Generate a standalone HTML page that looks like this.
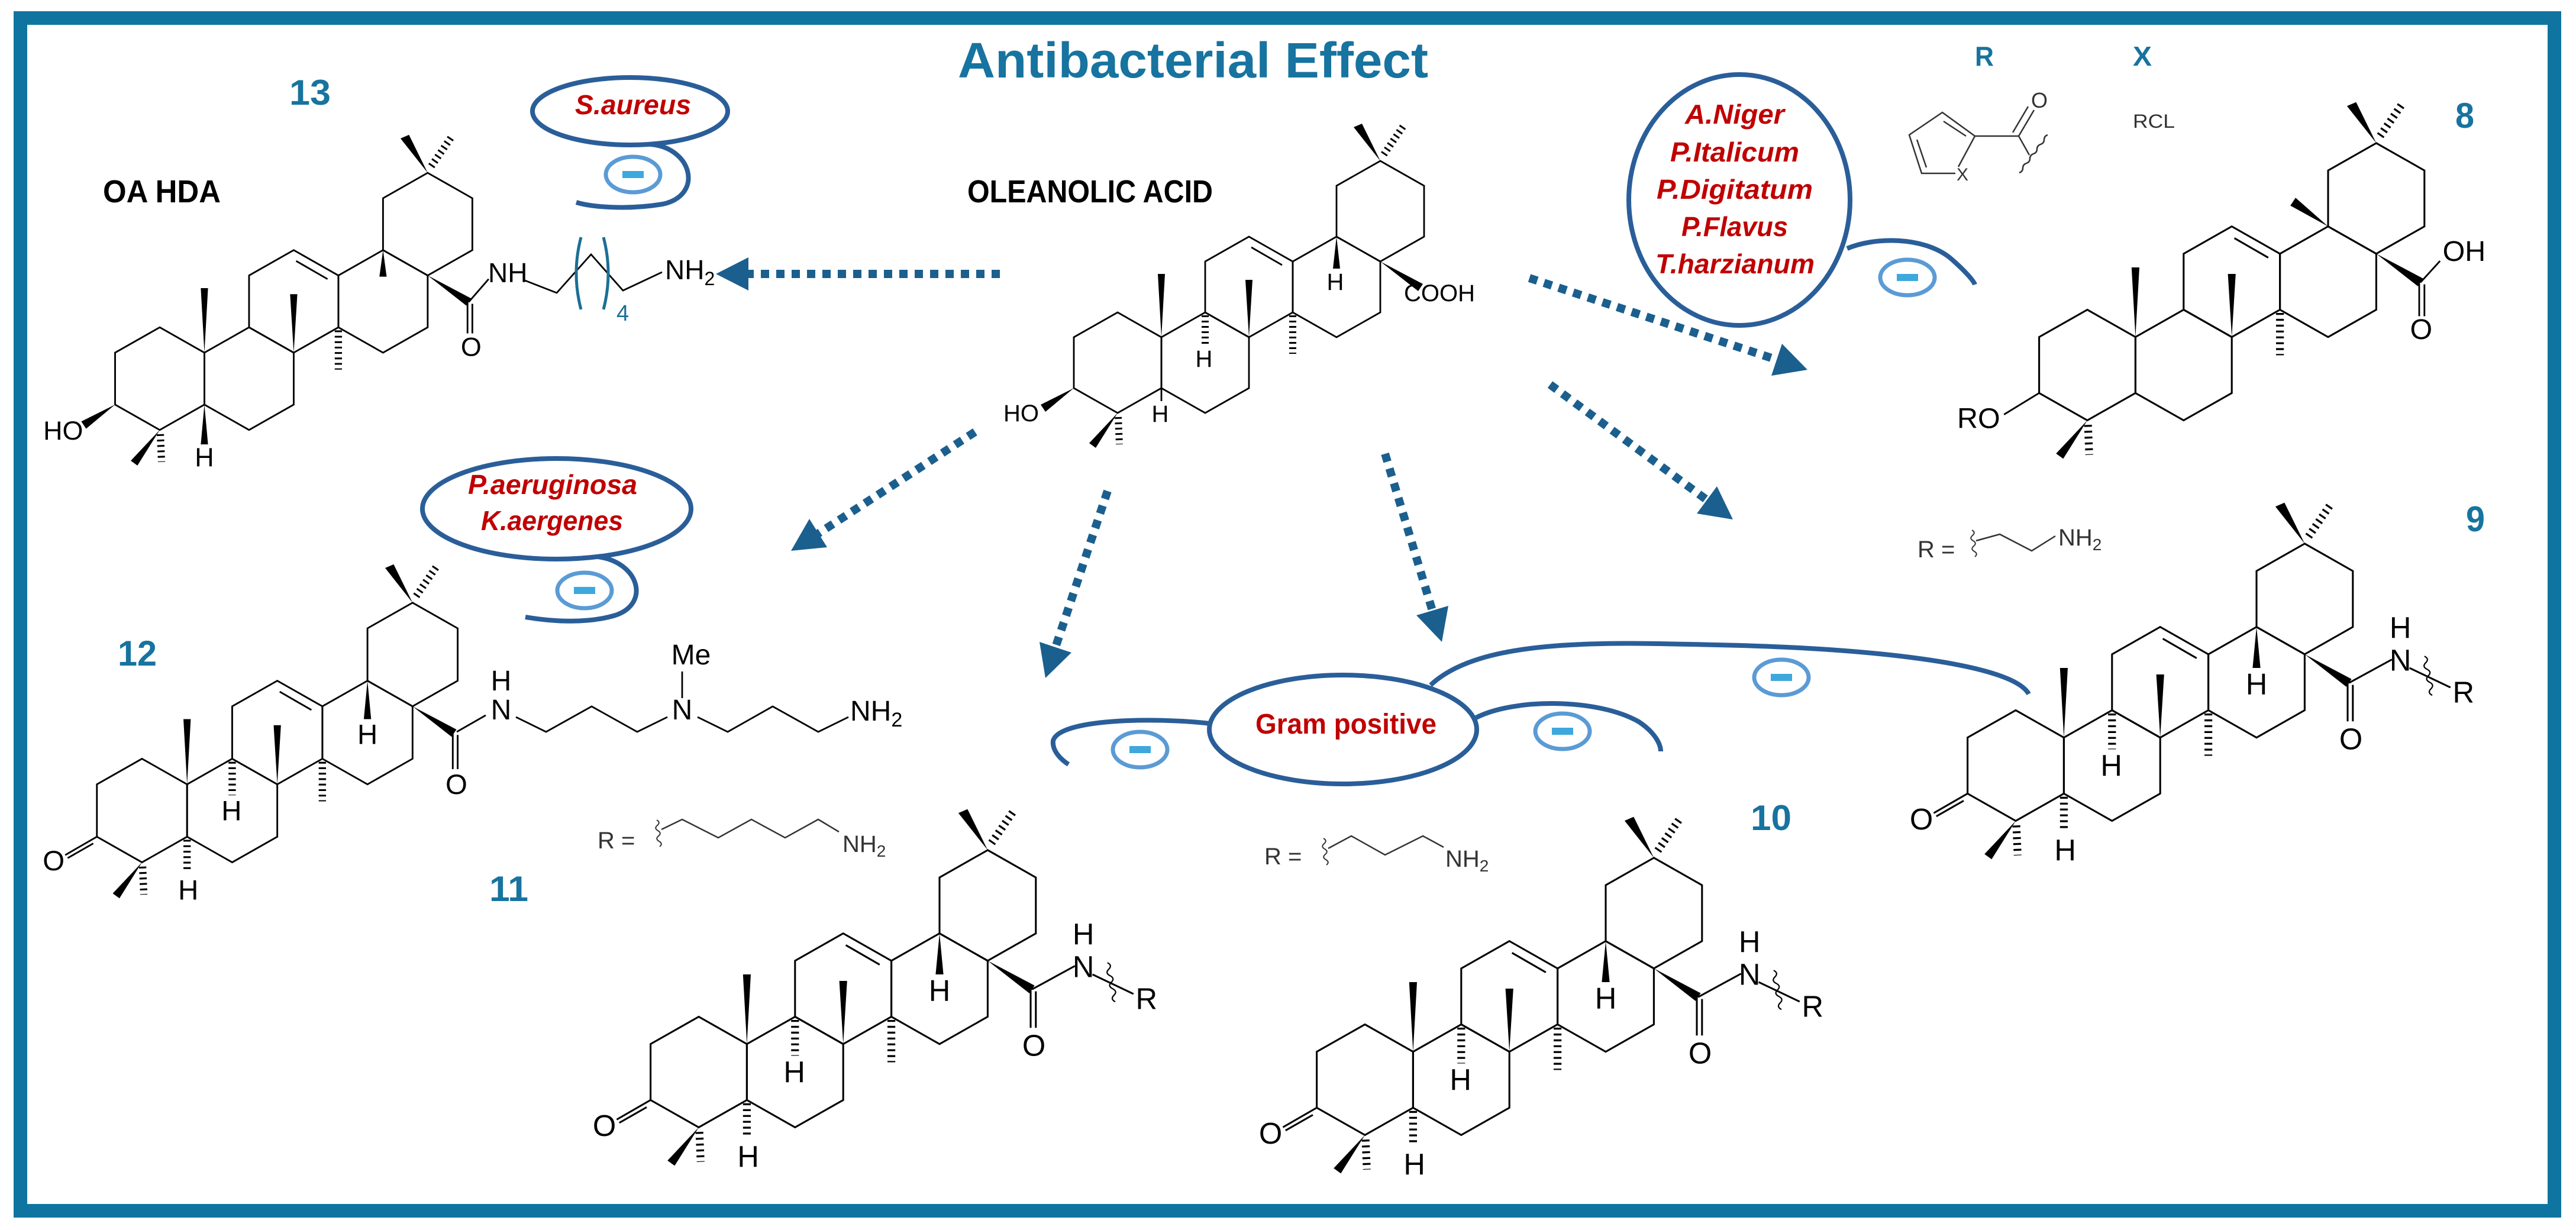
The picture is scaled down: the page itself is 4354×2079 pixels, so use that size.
<!DOCTYPE html>
<html><head><meta charset="utf-8"><style>
html,body{margin:0;padding:0;background:#fff;}
svg{display:block;}
text{font-family:"Liberation Sans",sans-serif;}
</style></head><body>
<svg width="4354" height="2079" viewBox="0 0 4354 2079" xmlns="http://www.w3.org/2000/svg">
<defs>
<g id="sk" fill="none" stroke="#000" stroke-width="2.8">
 <polygon points="0,-85 74,-43 74,43 0,85 -74,43 -74,-43"/>
 <polygon points="148,-85 222,-43 222,43 148,85 74,43 74,-43"/>
 <polygon points="222,-213 296,-171 296,-85 222,-43 148,-85 148,-171"/>
 <polygon points="370,-213 444,-171 444,-85 370,-43 296,-85 296,-171"/>
 <polygon points="444,-341 518,-299 518,-213 444,-171 370,-213 370,-299"/>
 <line x1="226" y1="-195" x2="278" y2="-165"/>
 <polygon points="74,-43 68,-150 80,-150" fill="#000" stroke="none"/>
 <polygon points="222,-43 216,-140 228,-140" fill="#000" stroke="none"/>
 <line x1="296" y1="-80" x2="296" y2="-15" stroke-width="12" stroke-dasharray="3,6"/>
 <polygon points="444,-341 399,-398 413,-404" fill="#000" stroke="none"/>
 <line x1="450" y1="-352" x2="483" y2="-400" stroke-width="12" stroke-dasharray="3,6"/>
 <polygon points="444,-171 508,-121 516,-133" fill="#000" stroke="none"/>
 <polygon points="0,85 -48,136 -37,144" fill="#000" stroke="none"/>
 <line x1="1" y1="92" x2="3" y2="138" stroke-width="12" stroke-dasharray="3,6"/>
</g>
<g id="keto" fill="none" stroke="#000" stroke-width="2.8">
 <line x1="-74" y1="43" x2="-126" y2="73"/>
 <line x1="-80" y1="54" x2="-122" y2="78"/>
 <line x1="74" y1="48" x2="74" y2="102" stroke-width="12" stroke-dasharray="3,6"/>
 <line x1="148" y1="-80" x2="148" y2="-25" stroke-width="12" stroke-dasharray="3,6"/>
 <polygon points="370,-213 364,-150 376,-150" fill="#000" stroke="none"/>
 <g fill="#000" stroke="none" font-size="46" text-anchor="middle">
  <text x="-145" y="98">O</text>
  <text x="76" y="146">H</text>
  <text x="147" y="16">H</text>
  <text x="370" y="-109">H</text>
 </g>
</g>
<g id="amide" fill="none" stroke="#000" stroke-width="2.8">
 <line x1="510" y1="-127" x2="510" y2="-68"/>
 <line x1="518" y1="-124" x2="518" y2="-68"/>
 <line x1="512" y1="-127" x2="578" y2="-163"/>
 <line x1="605" y1="-150" x2="668" y2="-120"/>
 <path d="M628,-168 q8,4 2,10 q-6,6 2,10 q8,4 2,10 q-6,6 2,10 q8,4 2,10 q-6,6 2,10" stroke-width="2"/>
 <g fill="#000" stroke="none" font-size="46" text-anchor="middle">
  <text x="515" y="-25">O</text>
  <text x="591" y="-146">N</text>
  <text x="591" y="-196">H</text>
  <text x="688" y="-97">R</text>
 </g>
</g>
<g id="mn"><ellipse rx="46" ry="30" fill="#fff" stroke="#5b9bd5" stroke-width="7"/><rect x="-18" y="-6" width="36" height="12" fill="#3ea8dd"/></g>
<path id="wv" d="M0,-22 q7,4 1,9 q-6,5 1,9 q7,4 1,9 q-6,5 1,9 q7,4 1,9" fill="none" stroke="#333" stroke-width="2"/>
</defs>

<!-- frame -->
<rect x="34.5" y="30.5" width="4283" height="2016" fill="none" stroke="#0f75a0" stroke-width="23"/>

<!-- title & labels -->
<text x="1619" y="131" font-size="84" font-weight="bold" fill="#17739f" textLength="795" lengthAdjust="spacingAndGlyphs">Antibacterial Effect</text>
<g font-weight="bold" fill="#17739f">
 <text x="3338" y="111" font-size="46" textLength="32" lengthAdjust="spacingAndGlyphs">R</text>
 <text x="3605" y="111" font-size="46" textLength="32" lengthAdjust="spacingAndGlyphs">X</text>
 <text x="489" y="177" font-size="60" textLength="70" lengthAdjust="spacingAndGlyphs">13</text>
 <text x="4150" y="216" font-size="60" textLength="32" lengthAdjust="spacingAndGlyphs">8</text>
 <text x="4168" y="898" font-size="60" textLength="32" lengthAdjust="spacingAndGlyphs">9</text>
 <text x="199" y="1125" font-size="60" textLength="66" lengthAdjust="spacingAndGlyphs">12</text>
 <text x="827" y="1523" font-size="60" textLength="66" lengthAdjust="spacingAndGlyphs">11</text>
 <text x="2959" y="1403" font-size="60" textLength="69" lengthAdjust="spacingAndGlyphs">10</text>
</g>
<text x="174" y="342" font-size="54" font-weight="bold" textLength="199" lengthAdjust="spacingAndGlyphs">OA HDA</text>
<text x="1635" y="342" font-size="54" font-weight="bold" textLength="415" lengthAdjust="spacingAndGlyphs">OLEANOLIC ACID</text>
<text x="3605" y="216" font-size="32" fill="#333" textLength="71" lengthAdjust="spacingAndGlyphs">RCL</text>

<!-- furan R group -->
<g fill="none" stroke="#333" stroke-width="2.5">
 <polyline points="3310,282 3338,230 3283,190 3227,228 3248,293 3305,293"/>
 <line x1="3285" y1="205" x2="3323" y2="230"/>
 <line x1="3240" y1="236" x2="3256" y2="283"/>
 <line x1="3338" y1="230" x2="3412" y2="230"/>
 <line x1="3412" y1="230" x2="3438" y2="186"/>
 <line x1="3402" y1="224" x2="3428" y2="180"/>
 <line x1="3412" y1="230" x2="3430" y2="262"/>
 <path d="M3413,292 q6,-2 6,-8 q0,-6 6,-8 q6,-2 6,-8 q0,-6 6,-8 q6,-2 6,-8 q0,-6 6,-8 q6,-2 6,-8 q0,-6 6,-8"/>
</g>
<text x="3317" y="305" font-size="30" fill="#333" text-anchor="middle">X</text>
<text x="3447" y="182" font-size="36" fill="#333" text-anchor="middle">O</text>

<!-- OLEANOLIC ACID -->
<g transform="translate(1889,613)">
 <use href="#sk"/>
 <g fill="none" stroke="#000" stroke-width="2.8">
  <polygon points="-74,43 -130,71 -122,83" fill="#000" stroke="none"/>
  <line x1="148" y1="-80" x2="148" y2="-30" stroke-width="12" stroke-dasharray="3,6"/>
  <line x1="74" y1="43" x2="74" y2="65"/>
  <polygon points="370,-213 364,-159 376,-159" fill="#000" stroke="none"/>
 </g>
 <g font-size="40" text-anchor="middle">
  <text x="-163" y="99">HO</text>
  <text x="146" y="7">H</text>
  <text x="72" y="100">H</text>
  <text x="368" y="-123">H</text>
  <text x="484" y="-104" text-anchor="start">COOH</text>
 </g>
</g>

<!-- 13 OA HDA -->
<g transform="translate(270,640) scale(1.02)">
 <use href="#sk"/>
 <g fill="none" stroke="#000" stroke-width="2.8">
  <polygon points="-74,43 -130,71 -122,83" fill="#000" stroke="none"/>
  <polygon points="74,43 68,109 80,109" fill="#000" stroke="none"/>
  <polygon points="370,-213 364,-169 376,-169" fill="#000" stroke="none"/>
  <line x1="510" y1="-127" x2="510" y2="-75"/>
  <line x1="518" y1="-124" x2="518" y2="-75"/>
  <line x1="512" y1="-127" x2="545" y2="-165"/>
 </g>
 <g font-size="44" text-anchor="middle">
  <text x="-160" y="101">HO</text>
  <text x="74" y="145">H</text>
  <text x="516" y="-38">O</text>
 </g>
</g>
<g fill="none" stroke="#000" stroke-width="2.8">
 <polyline points="887,474 941,495 999,430 1053,491 1119,460"/>
</g>
<g fill="none" stroke="#1b6f95" stroke-width="5">
 <path d="M982,401 Q966,462 982,523"/>
 <path d="M1020,401 Q1036,462 1020,523"/>
</g>
<text x="1042" y="542" font-size="38" fill="#1b6f95">4</text>
<text x="825" y="477" font-size="46">NH</text>
<text x="1124" y="472" font-size="46">NH<tspan font-size="32" dy="10">2</tspan></text>

<!-- 8 -->
<g transform="translate(3528,617) scale(1.1)">
 <use href="#sk"/>
 <g fill="none" stroke="#000" stroke-width="2.6">
  <line x1="-74" y1="43" x2="-128" y2="76"/>
  <polygon points="370,-213 312,-245 320,-257" fill="#000" stroke="none"/>
  <line x1="510" y1="-127" x2="510" y2="-75"/>
  <line x1="518" y1="-124" x2="518" y2="-75"/>
  <line x1="512" y1="-127" x2="542" y2="-160"/>
 </g>
 <g font-size="44">
  <text x="-134" y="97" text-anchor="end">RO</text>
  <text x="513" y="-40" text-anchor="middle">O</text>
  <text x="546" y="-160">OH</text>
 </g>
</g>

<!-- 12 -->
<g transform="translate(240,1370) scale(1.03)">
 <use href="#sk"/>
 <use href="#keto"/>
 <g fill="none" stroke="#000" stroke-width="2.8">
  <line x1="510" y1="-127" x2="510" y2="-68"/>
  <line x1="518" y1="-124" x2="518" y2="-68"/>
 </g>
 <text x="516" y="-27" font-size="46" text-anchor="middle">O</text>
</g>
<g fill="none" stroke="#000" stroke-width="2.8">
 <line x1="772" y1="1237" x2="821" y2="1209"/>
 <polyline points="872,1212 923,1237 1000,1194 1077,1237 1128,1212"/>
 <line x1="1153" y1="1180" x2="1153" y2="1135"/>
 <polyline points="1179,1212 1230,1237 1306,1194 1383,1237 1434,1212"/>
</g>
<g font-size="48" text-anchor="middle">
 <text x="847" y="1216">N</text>
 <text x="847" y="1167">H</text>
 <text x="1153" y="1216">N</text>
 <text x="1168" y="1123">Me</text>
</g>
<text x="1437" y="1218" font-size="48">NH<tspan font-size="34" dy="10">2</tspan></text>

<!-- 11 -->
<g transform="translate(1181,1812) scale(1.1)"><use href="#sk"/><use href="#keto"/><use href="#amide"/></g>
<!-- 10 -->
<g transform="translate(2307,1825) scale(1.1)"><use href="#sk"/><use href="#keto"/><use href="#amide"/></g>
<!-- 9 -->
<g transform="translate(3407,1294) scale(1.1)"><use href="#sk"/><use href="#keto"/><use href="#amide"/></g>

<!-- R= definitions -->
<g fill="#333" font-size="40">
 <text x="1010" y="1434">R =</text>
 <text x="1424" y="1440">NH<tspan font-size="28" dy="8">2</tspan></text>
 <text x="2137" y="1461">R =</text>
 <text x="2443" y="1465">NH<tspan font-size="28" dy="8">2</tspan></text>
 <text x="3241" y="942">R =</text>
 <text x="3479" y="922">NH<tspan font-size="28" dy="8">2</tspan></text>
</g>
<g fill="none" stroke="#333" stroke-width="2.5">
 <polyline points="1118,1402 1153,1385 1214,1416 1270,1385 1327,1416 1383,1385 1418,1406"/>
 <polyline points="2245,1434 2284,1413 2341,1445 2405,1413 2440,1432"/>
 <polyline points="3340,914 3380,903 3434,931 3474,906"/>
</g>
<use href="#wv" x="1110" y="1408"/>
<use href="#wv" x="2237" y="1439"/>
<use href="#wv" x="3333" y="918"/>

<!-- arrows -->
<g stroke="#1b5f8e" stroke-width="14" stroke-dasharray="14 12" fill="none">
 <line x1="1690" y1="463" x2="1262" y2="463"/>
 <line x1="2585" y1="470" x2="3012" y2="611"/>
 <line x1="2620" y1="650" x2="2893" y2="851"/>
 <line x1="1648" y1="730" x2="1375" y2="907"/>
 <line x1="1872" y1="830" x2="1781" y2="1103"/>
 <line x1="2341" y1="767" x2="2424" y2="1042"/>
</g>
<g fill="#1b5f8e">
 <polygon points="1210,463 1265,435 1265,491"/>
 <polygon points="3055,625 2994,635 3012,581"/>
 <polygon points="2929,878 2868,868 2902,822"/>
 <polygon points="1337,931 1368,877 1398,925"/>
 <polygon points="1767,1146 1757,1085 1811,1103"/>
 <polygon points="2437,1085 2394,1040 2448,1024"/>
</g>

<!-- bubbles -->
<g fill="none" stroke="#2a5e99" stroke-width="8">
 <ellipse cx="1065" cy="188" rx="165" ry="57" fill="#fff"/>
 <path d="M1100,244 C1170,250 1190,330 1120,345 C1060,355 1000,350 974,342"/>
 <ellipse cx="941" cy="860" rx="227" ry="85" fill="#fff"/>
 <path d="M1010,941 C1080,950 1100,1020 1040,1040 C990,1055 930,1050 888,1043"/>
 <ellipse cx="2940" cy="338" rx="187" ry="212" fill="#fff"/>
 <path d="M3122,420 C3170,400 3250,400 3295,435 C3322,458 3336,475 3338,481"/>
 <path d="M2046,1223 C1950,1212 1790,1215 1780,1252 C1778,1270 1795,1285 1806,1292"/>
 <path d="M2495,1213 C2560,1180 2700,1180 2770,1220 C2800,1240 2807,1260 2807,1270"/>
 <path d="M2418,1158 C2500,1080 2700,1085 2900,1090 C3150,1095 3400,1120 3429,1173"/>
 <ellipse cx="2270" cy="1233" rx="226" ry="92" fill="#fff"/>
</g>
<use href="#mn" x="1070" y="295"/>
<use href="#mn" x="988" y="998"/>
<use href="#mn" x="3224" y="469"/>
<use href="#mn" x="1927" y="1267"/>
<use href="#mn" x="2641" y="1236"/>
<use href="#mn" x="3011" y="1145"/>

<g fill="#c00000" font-weight="bold" font-style="italic" font-size="46">
 <text x="972" y="193" textLength="196" lengthAdjust="spacingAndGlyphs">S.aureus</text>
 <text x="791" y="835" textLength="286" lengthAdjust="spacingAndGlyphs">P.aeruginosa</text>
 <text x="813" y="896" textLength="240" lengthAdjust="spacingAndGlyphs">K.aergenes</text>
 <text x="2848" y="209" textLength="168" lengthAdjust="spacingAndGlyphs">A.Niger</text>
 <text x="2823" y="273" textLength="218" lengthAdjust="spacingAndGlyphs">P.Italicum</text>
 <text x="2800" y="336" textLength="264" lengthAdjust="spacingAndGlyphs">P.Digitatum</text>
 <text x="2842" y="399" textLength="180" lengthAdjust="spacingAndGlyphs">P.Flavus</text>
 <text x="2798" y="462" textLength="269" lengthAdjust="spacingAndGlyphs">T.harzianum</text>
</g>
<text x="2122" y="1240" fill="#c00000" font-weight="bold" font-size="48" textLength="306" lengthAdjust="spacingAndGlyphs">Gram positive</text>
</svg>
</body></html>
